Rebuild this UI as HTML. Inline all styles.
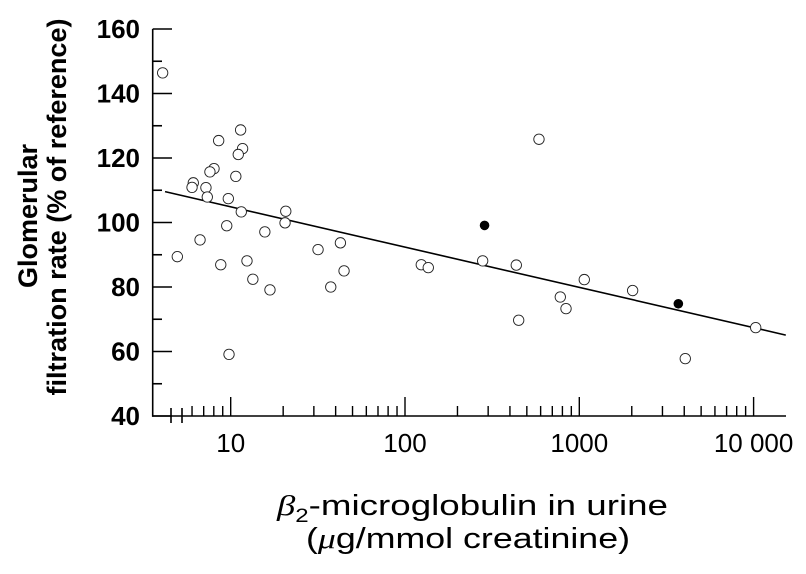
<!DOCTYPE html>
<html><head><meta charset="utf-8"><style>
html,body{margin:0;padding:0;background:#fff;}
svg{display:block;font-family:"Liberation Sans",sans-serif;}
</style></head><body>
<svg id="chart" width="806" height="574" viewBox="0 0 806 574" xmlns="http://www.w3.org/2000/svg">
<g id="axes"></g>
<g id="marks"></g>
<text transform="translate(37,216) rotate(-90)" text-anchor="middle" font-size="27" font-weight="bold">Glomerular</text>
<text transform="translate(66,207) rotate(-90)" text-anchor="middle" font-size="27" font-weight="bold" textLength="377" lengthAdjust="spacingAndGlyphs">filtration rate (% of reference)</text>
<text x="277" y="515" font-size="29" textLength="391" lengthAdjust="spacingAndGlyphs"><tspan font-family="Liberation Serif" font-style="italic">β</tspan><tspan font-size="19" dy="7">2</tspan><tspan dy="-7">-microglobulin in urine</tspan></text>
<text x="306" y="548" font-size="29" textLength="324" lengthAdjust="spacingAndGlyphs">(<tspan font-family="Liberation Serif" font-style="italic">μ</tspan>g/mmol creatinine)</text>
</svg>
<script>
const xOpen = [4.07,11.4,8.53,11.7,11.05,8.02,7.6,10.7,6.1,6.0,7.21,7.34,9.69,11.5,20.7,20.5,9.49,15.7,6.67,4.94,42.6,31.7,8.77,12.4,13.4,16.8,44.7,37.5,9.78,587,124,136,279,435,1068,2023,778,839,449,10280,4055];
const yOpen = [146.4,128.7,125.4,122.9,121.1,116.7,115.7,114.3,112.3,110.9,110.8,107.9,107.4,103.3,103.5,99.9,99.0,97.1,94.6,89.4,93.7,91.6,86.9,88.1,82.4,79.1,85.0,80.0,59.1,125.8,86.9,86.0,88.1,86.8,82.3,78.9,76.9,73.3,69.7,67.4,57.8];
const xFilled = [286,3700];
const yFilled = [99.1,74.8];
const fitIntercept = 117.35;
const fitSlope = -12.49;
const fitRange = [4.2,15300];
const yTicks = [40,60,80,100,120,140,160];
const xTickLabels = ["10","100","1000","10 000"];
const xTickValues = [10,100,1000,10000];

const X0 = 230.7, DEC = 174.3, Y0 = 416, YS = 3.225;
function sx(v){ return X0 + (Math.log10(v) - 1) * DEC; }
function sy(v){ return Y0 - (v - 40) * YS; }
const NS = "http://www.w3.org/2000/svg";
function mk(parent, tag, attrs){
  const e = document.createElementNS(NS, tag);
  for (const k in attrs) e.setAttribute(k, attrs[k]);
  parent.appendChild(e); return e;
}
const axes = document.getElementById('axes');
const marks = document.getElementById('marks');

let yl = mk(axes,'line',{x1:152.7,y1:sy(160),x2:152.7,y2:Y0+0.8,stroke:'#000','stroke-width':1.6});


let xl = mk(axes,'line',{x1:152,y1:Y0,x2:786,y2:Y0,stroke:'#000','stroke-width':1.6});



for (let v = 40; v <= 160; v += 10){
  const major = v % 20 === 0;
  const t = mk(axes,'line',{x1:152.7,y1:sy(v),x2:major?172:162,y2:sy(v),stroke:'#000','stroke-width':1.6});
  
  
}
yTicks.forEach(v => {
  const t = mk(axes,'text',{x:140,y:sy(v)+9,'text-anchor':'end','font-size':26,'font-weight':'bold'});
  t.textContent = String(v);
  
  
});
[171,182].forEach(x => {
  const b = mk(axes,'line',{x1:x,y1:Y0-8,x2:x,y2:Y0+7,stroke:'#000','stroke-width':1.6});
  
  
});
for (let d = 1; d <= 10000; d *= 10){
  for (let m = 1; m <= 9; m++){
    const v = d * m;
    if (v < 6 || v > 10000) continue;
    const major = m === 1;
    const t = mk(axes,'line',{x1:sx(v),y1:Y0,x2:sx(v),y2:Y0-(major?19:10),stroke:'#000','stroke-width':1.4});
    
    
  }
}
xTickValues.forEach((v,i) => {
  const t = mk(axes,'text',{x:sx(v),y:452,'text-anchor':'middle','font-size':26});
  t.textContent = xTickLabels[i];
  
  
});

const fx1 = fitRange[0], fx2 = fitRange[1];
const fit = mk(marks,'line',{x1:sx(fx1),y1:sy(fitIntercept+fitSlope*Math.log10(fx1)),x2:sx(fx2),y2:sy(fitIntercept+fitSlope*Math.log10(fx2)),stroke:'#000','stroke-width':1.6});



xOpen.forEach((x,i) => {
  const c = mk(marks,'circle',{cx:sx(x),cy:sy(yOpen[i]),r:5.2,fill:'#fff',stroke:'#222','stroke-width':0.9});
  
  
});
xFilled.forEach((x,i) => {
  const c = mk(marks,'circle',{cx:sx(x),cy:sy(yFilled[i]),r:4.8,fill:'#000'});
  
  
});
</script>
</body></html>
